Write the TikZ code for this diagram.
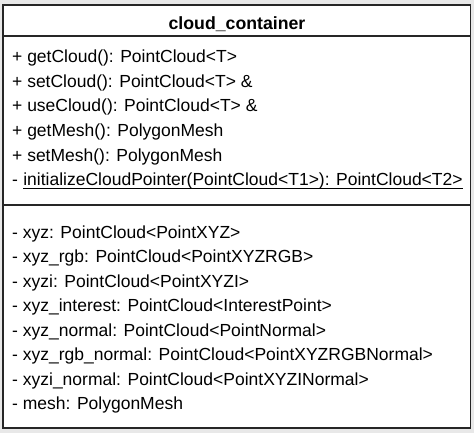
\documentclass[tikz,border=0pt]{standalone}
\usepackage{fontspec}
\setmainfont{Liberation Sans}
\definecolor{bggray}{HTML}{E8E8E8}
\begin{document}
\begin{tikzpicture}[x=1pt,y=-1pt,
  member/.style={anchor=base west,inner sep=0pt,font=\fontsize{17.5}{20}\selectfont},
  title/.style={anchor=base,inner sep=0pt,font=\fontsize{17.7}{20}\selectfont\bfseries},
  frame/.style={draw=black!85,line width=1.4pt}]
\fill[bggray] (0,0) rectangle (474,433);
\useasboundingbox (0,0) rectangle (474,433);
\fill[white] (3,5) rectangle (470.5,428);
\node[title] (t) at (237,30) {cloud\_container};
\node[member] (m1) at (12,63) {+ getCloud(): PointCloud<T>};
\node[member] (m2) at (12,87.5) {+ setCloud(): PointCloud<T> \&};
\node[member] (m3) at (12,112) {+ useCloud(): PointCloud<T> \&};
\node[member] (m4) at (12,136.5) {+ getMesh(): PolygonMesh};
\node[member] (m5) at (12,161) {+ setMesh(): PolygonMesh};
\node[member] (m6) at (12,185.5) {-};
\node[member] (m6u) at ([xshift=4.9pt]m6.base east) {initializeCloudPointer(PointCloud<T1>): PointCloud<T2>};
\draw[line width=1pt] ([yshift=-2.5pt]m6u.base west) -- ([yshift=-2.5pt]m6u.base east);
\node[member] (a1) at (12,238) {- xyz: PointCloud<PointXYZ>};
\node[member] (a2) at (12,262.5) {- xyz\_rgb: PointCloud<PointXYZRGB>};
\node[member] (a3) at (12,287) {- xyzi: PointCloud<PointXYZI>};
\node[member] (a4) at (12,311.5) {- xyz\_interest: PointCloud<InterestPoint>};
\node[member] (a5) at (12,336) {- xyz\_normal: PointCloud<PointNormal>};
\node[member] (a6) at (12,360.5) {- xyz\_rgb\_normal: PointCloud<PointXYZRGBNormal>};
\node[member] (a7) at (12,385) {- xyzi\_normal: PointCloud<PointXYZINormal>};
\node[member] (a8) at (12,409.5) {- mesh: PolygonMesh};
\draw[frame] (3,5) rectangle (470.5,428);
\draw[frame] (3,36) -- (470.5,36);
\draw[frame] (3,205) -- (470.5,205);
\end{tikzpicture}
\end{document}
